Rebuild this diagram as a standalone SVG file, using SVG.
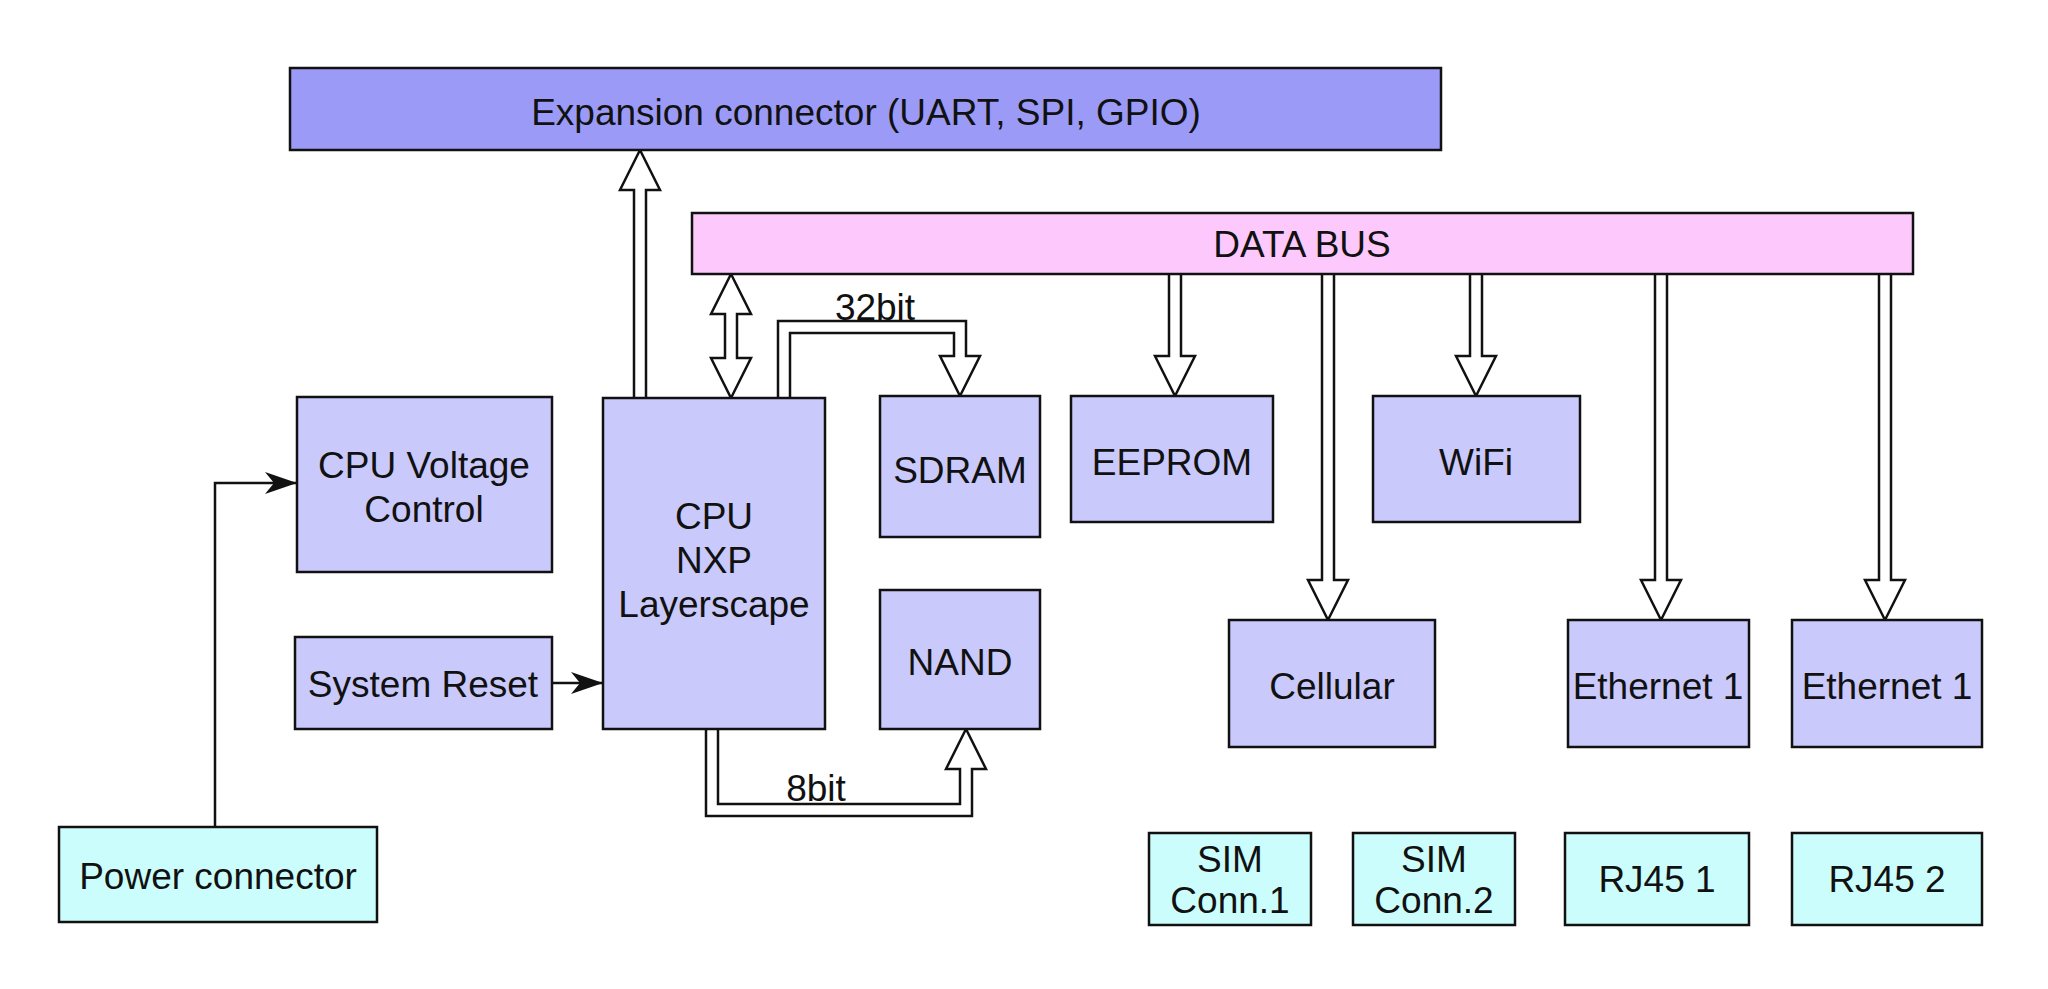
<svg xmlns="http://www.w3.org/2000/svg" width="2048" height="989" viewBox="0 0 2048 989">
<style>
.b{fill:#c9c9fb;stroke:#111;stroke-width:2.5}
.c{fill:#ccfdfd;stroke:#111;stroke-width:2.5}
text{font-family:"Liberation Sans",Arial,sans-serif;font-size:37px;fill:#111;text-anchor:middle;dominant-baseline:central}
.h{fill:#fff;stroke:#111;stroke-width:2.5;stroke-linejoin:miter}
.l{fill:none;stroke:#111;stroke-width:2.5}
</style>
<defs><marker id="a" viewBox="0 0 32 22" refX="32" refY="11" markerWidth="32" markerHeight="22" markerUnits="userSpaceOnUse" orient="auto"><path d="M0,0L32,11L0,22L9,11Z" fill="#111"/></marker></defs>
<rect width="2048" height="989" fill="#fff"/>
<g id="connectors">
<path class="h" d="M634,398V190H620L640,150L660,190H646V398"/>
<path class="h" d="M731,274L751,314H737V358H751L731,398L711,358H725V314H711Z"/>
<path class="h" d="M778,398V321H966V356H980L960,396L940,356H954V333H790V398"/>
<path class="h" d="M706,729V816H972V769H986L966,729L946,769H960V804H718V729"/>
<path class="h" d="M1169,274V356H1155L1175,396L1195,356H1181V274"/>
<path class="h" d="M1322,274V580H1308L1328,620L1348,580H1334V274"/>
<path class="h" d="M1470,274V356H1456L1476,396L1496,356H1482V274"/>
<path class="h" d="M1655,274V580H1641L1661,620L1681,580H1667V274"/>
<path class="h" d="M1879,274V580H1865L1885,620L1905,580H1891V274"/>
<path class="l" d="M215,827V483H297" marker-end="url(#a)"/>
<path class="l" d="M552,683H603" marker-end="url(#a)"/>
<text x="875" y="307">32bit</text>
<text x="816" y="788">8bit</text>
</g>
<g id="expansion"><rect x="290" y="68" width="1151" height="82" fill="#9b9bf7" stroke="#111" stroke-width="2.5"/><text x="866" y="112">Expansion connector (UART, SPI, GPIO)</text></g>
<g id="databus"><rect x="692" y="213" width="1221" height="61" fill="#fdc9fd" stroke="#111" stroke-width="2.5"/><text x="1302" y="244">DATA BUS</text></g>
<g id="cpuvolt"><rect class="b" x="297" y="397" width="255" height="175"/><text x="424" y="465">CPU Voltage</text><text x="424" y="509">Control</text></g>
<g id="reset"><rect class="b" x="295" y="637" width="257" height="92"/><text x="423" y="684">System Reset</text></g>
<g id="cpu"><rect class="b" x="603" y="398" width="222" height="331"/><text x="714" y="516">CPU</text><text x="714" y="560">NXP</text><text x="714" y="604">Layerscape</text></g>
<g id="sdram"><rect class="b" x="880" y="396" width="160" height="141"/><text x="960" y="470">SDRAM</text></g>
<g id="nand"><rect class="b" x="880" y="590" width="160" height="139"/><text x="960" y="662">NAND</text></g>
<g id="eeprom"><rect class="b" x="1071" y="396" width="202" height="126"/><text x="1172" y="462">EEPROM</text></g>
<g id="wifi"><rect class="b" x="1373" y="396" width="207" height="126"/><text x="1476" y="462">WiFi</text></g>
<g id="cellular"><rect class="b" x="1229" y="620" width="206" height="127"/><text x="1332" y="686">Cellular</text></g>
<g id="eth1"><rect class="b" x="1568" y="620" width="181" height="127"/><text x="1658" y="686">Ethernet 1</text></g>
<g id="eth2"><rect class="b" x="1792" y="620" width="190" height="127"/><text x="1887" y="686">Ethernet 1</text></g>
<g id="power"><rect class="c" x="59" y="827" width="318" height="95"/><text x="218" y="876">Power connector</text></g>
<g id="sim1"><rect class="c" x="1149" y="833" width="162" height="92"/><text x="1230" y="859">SIM</text><text x="1230" y="900">Conn.1</text></g>
<g id="sim2"><rect class="c" x="1353" y="833" width="162" height="92"/><text x="1434" y="859">SIM</text><text x="1434" y="900">Conn.2</text></g>
<g id="rj1"><rect class="c" x="1565" y="833" width="184" height="92"/><text x="1657" y="879">RJ45 1</text></g>
<g id="rj2"><rect class="c" x="1792" y="833" width="190" height="92"/><text x="1887" y="879">RJ45 2</text></g>
</svg>
